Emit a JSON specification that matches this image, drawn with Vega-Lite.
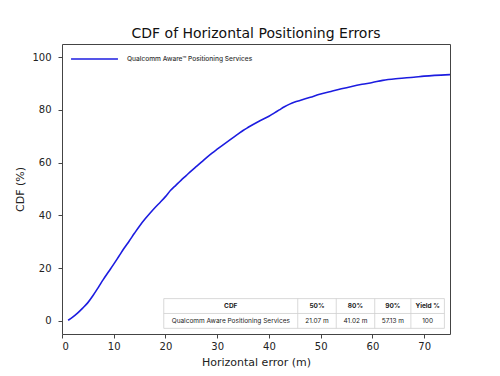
{
  "$schema": "https://vega.github.io/schema/vega-lite/v6.json",
  "autosize": "none",
  "width": 388,
  "height": 290,
  "padding": {"left": 62, "top": 44, "right": 50, "bottom": 42},
  "background": "white",
  "title": {"text": "CDF of Horizontal Positioning Errors", "font": "DejaVu Sans", "fontSize": 14, "fontWeight": "normal", "color": "#111", "offset": -6},
  "config": {
    "view": {"stroke": "#444", "strokeWidth": 1},
    "axis": {"grid": false, "domain": false, "tickColor": "#444", "tickSize": 4, "labelFont": "DejaVu Sans", "labelFontSize": 10, "labelColor": "#222", "titleFont": "DejaVu Sans", "titleFontSize": 11, "titleFontWeight": "normal", "titleColor": "#222"}
  },
  "datasets": {
    "cdf": [
      {"error": 1.2, "cdf": 0.2}, {"error": 2, "cdf": 1.3}, {"error": 3, "cdf": 2.9}, {"error": 4, "cdf": 4.8},
      {"error": 5, "cdf": 6.9}, {"error": 6, "cdf": 9.6}, {"error": 7, "cdf": 12.6}, {"error": 8, "cdf": 15.7},
      {"error": 9, "cdf": 18.6}, {"error": 10, "cdf": 21.5}, {"error": 11, "cdf": 24.5}, {"error": 12, "cdf": 27.5},
      {"error": 13, "cdf": 30.3}, {"error": 14, "cdf": 33.2}, {"error": 15, "cdf": 36.0}, {"error": 16, "cdf": 38.5},
      {"error": 17, "cdf": 40.8}, {"error": 18, "cdf": 43.0}, {"error": 19, "cdf": 45.0}, {"error": 20, "cdf": 47.1},
      {"error": 21, "cdf": 49.5}, {"error": 22, "cdf": 51.4}, {"error": 23, "cdf": 53.3}, {"error": 24, "cdf": 55.1},
      {"error": 25, "cdf": 56.9}, {"error": 26, "cdf": 58.6}, {"error": 27, "cdf": 60.3}, {"error": 28, "cdf": 62.0},
      {"error": 29, "cdf": 63.6}, {"error": 30, "cdf": 65.1}, {"error": 32, "cdf": 68.0}, {"error": 34, "cdf": 70.8},
      {"error": 35, "cdf": 72.2}, {"error": 36, "cdf": 73.4}, {"error": 38, "cdf": 75.6}, {"error": 40, "cdf": 77.6},
      {"error": 41, "cdf": 78.8}, {"error": 42, "cdf": 80.0}, {"error": 43, "cdf": 81.2}, {"error": 44, "cdf": 82.2},
      {"error": 45, "cdf": 83.0}, {"error": 46, "cdf": 83.6}, {"error": 48, "cdf": 84.8}, {"error": 50, "cdf": 86.0},
      {"error": 52, "cdf": 87.0}, {"error": 54, "cdf": 88.0}, {"error": 56, "cdf": 88.9}, {"error": 58, "cdf": 89.7},
      {"error": 60, "cdf": 90.4}, {"error": 62, "cdf": 91.2}, {"error": 65, "cdf": 91.9}, {"error": 68, "cdf": 92.4},
      {"error": 70, "cdf": 92.8}, {"error": 72, "cdf": 93.1}, {"error": 75, "cdf": 93.4}
    ],
    "header": [{"c0": "CDF", "c1": "50%", "c2": "80%", "c3": "90%", "c4": "Yield %"}],
    "stats": [{"c0": "Qualcomm Aware Positioning Services", "c1": "21.07 m", "c2": "41.02 m", "c3": "57.13 m", "c4": "100"}]
  },
  "layer": [
    {
      "data": {"name": "cdf"},
      "mark": {"type": "line", "strokeWidth": 1.6, "interpolate": "monotone", "clip": true},
      "encoding": {
        "x": {"field": "error", "type": "quantitative", "scale": {"domain": [0, 75], "nice": false, "zero": false}, "axis": {"values": [0, 10, 20, 30, 40, 50, 60, 70], "title": "Horizontal error (m)", "labelPadding": 3, "titlePadding": 5}},
        "y": {"field": "cdf", "type": "quantitative", "scale": {"domain": [-5, 105], "nice": false, "zero": false}, "axis": {"values": [0, 20, 40, 60, 80, 100], "title": "CDF (%)", "labelPadding": 7, "titlePadding": 6}},
        "color": {"datum": "Qualcomm Aware™ Positioning Services", "type": "nominal", "scale": {"range": ["#1c1ce0"]},
          "legend": {"title": null, "orient": "none", "legendX": 8, "legendY": -9.5, "padding": 0, "symbolType": "stroke", "symbolSize": 2200, "symbolStrokeWidth": 1.6, "labelFont": "Inter", "labelFontSize": 6.6, "labelFontWeight": 500, "labelColor": "#333", "labelOffset": 8}}
      }
    },
    {
      "data": {"name": "header"},
      "mark": {"type": "rect", "fill": "white", "stroke": "#cfcfcf", "strokeWidth": 0.8},
      "encoding": {"x": {"datum": 19.67}, "x2": {"datum": 73.92}, "y": {"datum": 8.42}, "y2": {"datum": -2.86}}
    },
    {
      "data": {"name": "header"},
      "mark": {"type": "rule", "stroke": "#cfcfcf", "strokeWidth": 0.8},
      "encoding": {"x": {"datum": 19.67}, "x2": {"datum": 73.92}, "y": {"datum": 2.78}}
    },
    {"data": {"name": "header"}, "mark": {"type": "rule", "stroke": "#cfcfcf", "strokeWidth": 0.8}, "encoding": {"x": {"datum": 45.57}, "y": {"datum": 8.42}, "y2": {"datum": -2.86}}},
    {"data": {"name": "header"}, "mark": {"type": "rule", "stroke": "#cfcfcf", "strokeWidth": 0.8}, "encoding": {"x": {"datum": 53.01}, "y": {"datum": 8.42}, "y2": {"datum": -2.86}}},
    {"data": {"name": "header"}, "mark": {"type": "rule", "stroke": "#cfcfcf", "strokeWidth": 0.8}, "encoding": {"x": {"datum": 60.45}, "y": {"datum": 8.42}, "y2": {"datum": -2.86}}},
    {"data": {"name": "header"}, "mark": {"type": "rule", "stroke": "#cfcfcf", "strokeWidth": 0.8}, "encoding": {"x": {"datum": 67.44}, "y": {"datum": 8.42}, "y2": {"datum": -2.86}}},
    {"data": {"name": "header"}, "mark": {"type": "text", "font": "Inter", "fontSize": 6.5, "fontWeight": "bold", "color": "#222"}, "encoding": {"x": {"datum": 32.62}, "y": {"datum": 5.6}, "text": {"field": "c0"}}},
    {"data": {"name": "header"}, "mark": {"type": "text", "font": "Inter", "fontSize": 6.5, "fontWeight": "bold", "color": "#222"}, "encoding": {"x": {"datum": 49.29}, "y": {"datum": 5.6}, "text": {"field": "c1"}}},
    {"data": {"name": "header"}, "mark": {"type": "text", "font": "Inter", "fontSize": 6.5, "fontWeight": "bold", "color": "#222"}, "encoding": {"x": {"datum": 56.73}, "y": {"datum": 5.6}, "text": {"field": "c2"}}},
    {"data": {"name": "header"}, "mark": {"type": "text", "font": "Inter", "fontSize": 6.5, "fontWeight": "bold", "color": "#222"}, "encoding": {"x": {"datum": 63.95}, "y": {"datum": 5.6}, "text": {"field": "c3"}}},
    {"data": {"name": "header"}, "mark": {"type": "text", "font": "Inter", "fontSize": 6.5, "fontWeight": "bold", "color": "#222"}, "encoding": {"x": {"datum": 70.68}, "y": {"datum": 5.6}, "text": {"field": "c4"}}},
    {"data": {"name": "stats"}, "mark": {"type": "text", "font": "Inter", "fontSize": 6.5, "color": "#222"}, "encoding": {"x": {"datum": 32.62}, "y": {"datum": 0.0}, "text": {"field": "c0"}}},
    {"data": {"name": "stats"}, "mark": {"type": "text", "font": "Inter", "fontSize": 6.5, "color": "#222"}, "encoding": {"x": {"datum": 49.29}, "y": {"datum": 0.0}, "text": {"field": "c1"}}},
    {"data": {"name": "stats"}, "mark": {"type": "text", "font": "Inter", "fontSize": 6.5, "color": "#222"}, "encoding": {"x": {"datum": 56.73}, "y": {"datum": 0.0}, "text": {"field": "c2"}}},
    {"data": {"name": "stats"}, "mark": {"type": "text", "font": "Inter", "fontSize": 6.5, "color": "#222"}, "encoding": {"x": {"datum": 63.95}, "y": {"datum": 0.0}, "text": {"field": "c3"}}},
    {"data": {"name": "stats"}, "mark": {"type": "text", "font": "Inter", "fontSize": 6.5, "color": "#222"}, "encoding": {"x": {"datum": 70.68}, "y": {"datum": 0.0}, "text": {"field": "c4"}}}
  ]
}
